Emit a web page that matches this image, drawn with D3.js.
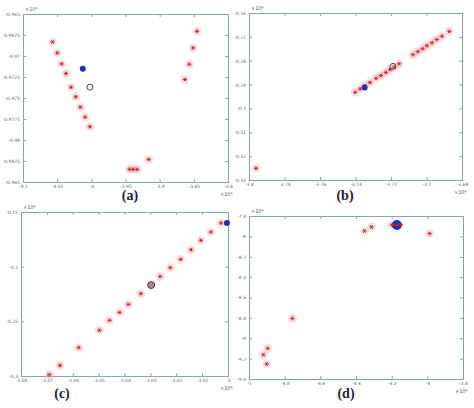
<!DOCTYPE html><html><head><meta charset="utf-8"><script src="https://cdn.jsdelivr.net/npm/d3@7"></script>
<style>body{margin:0;background:#fff}</style></head><body><svg id="s" width="474" height="408"></svg>
<script>
const aX=[-4.0567,-4.0498,-4.0434,-4.037,-4.0297,-4.0228,-4.0159,-4.009,-4.0021,-3.9441,-3.9387,-3.9328,-3.916,-3.863,-3.8566,-3.8511,-3.8453];
const aY=[-0.96833,-0.96963,-0.97094,-0.97209,-0.97371,-0.97486,-0.97609,-0.97728,-0.97842,-0.98349,-0.98349,-0.98349,-0.98231,-0.9728,-0.97098,-0.96904,-0.96706];
const bX=[-3.796,-3.7402,-3.7374,-3.7346,-3.7318,-3.7284,-3.7257,-3.7229,-3.7205,-3.7182,-3.7154,-3.7077,-3.7049,-3.7022,-3.6998,-3.697,-3.6942,-3.6913,-3.6872];
const bY=[-0.3251,-0.2932,-0.2918,-0.2905,-0.2891,-0.2874,-0.2862,-0.2849,-0.2837,-0.2827,-0.2813,-0.2775,-0.2762,-0.275,-0.2737,-0.2725,-0.2711,-0.2697,-0.2677];
const cX=[-3.069,-3.0649,-3.0577,-3.0497,-3.0458,-3.0419,-3.0385,-3.0337,-3.0262,-3.0223,-3.0183,-3.0143,-3.0105,-3.0066,-3.0027];
const cY=[-0.2988,-0.2903,-0.2741,-0.2582,-0.2491,-0.2418,-0.2345,-0.2247,-0.2089,-0.2009,-0.1933,-0.1845,-0.1759,-0.1683,-0.1601];
const dX=[-4.3523,-4.3129,-4.1988,-3.9873,-4.7566,-4.8952,-4.9195,-4.9008];
const dY=[-7.947,-7.9078,-7.8882,-7.973,-8.8057,-9.0995,-9.1616,-9.2529];
const panels=[
 {lab:"(a)",box:[23,14,228,182],xd:[-4.1,-3.8],xt:[-4.1,-4.05,-4,-3.95,-3.9,-3.85,-3.8],yd:[-0.985,-0.965],yt:d3.range(9).map(i=>-0.985+i*0.0025),xs:aX,ys:aY,blue:[-4.0125,-0.97153],open:[-4.0021,-0.97371],lp:[130,200]},
 {lab:"(b)",box:[249,13,462,180],xd:[-3.8,-3.68],xt:[-3.8,-3.78,-3.76,-3.74,-3.72,-3.7,-3.68],yd:[-0.33,-0.26],yt:d3.range(8).map(i=>-0.33+i*0.01),xs:bX,ys:bY,blue:[-3.7349,-0.2912],open:[-3.7189,-0.2824],lp:[345,200]},
 {lab:"(c)",box:[21,212,228,376],xd:[-3.08,-3.0],xt:d3.range(9).map(i=>-3.08+i*0.01),yd:[-0.3,-0.15],yt:[-0.3,-0.25,-0.2,-0.15],xs:cX,ys:cY,blue:[-3.0004,-0.1601],open:[-3.0297,-0.2168],lp:[62,398]},
 {lab:"(d)",box:[249,216,463,379],xd:[-5,-3.8],xt:[-5,-4.8,-4.6,-4.4,-4.2,-4,-3.8],yd:[-9.4,-7.8],yt:d3.range(9).map(i=>-9.4+i*0.2),xs:dX,ys:dY,blue:[-4.1707,-7.8882],open:null,lp:[346,398]}
];
const svg=d3.select("#s");
const fmt=v=>+v.toFixed(4)+"";
panels.forEach(p=>{
 const [x0,y0,x1,y1]=p.box;
 const x=d3.scaleLinear().domain(p.xd).range([x0,x1]);
 const y=d3.scaleLinear().domain(p.yd).range([y1,y0]);
 const g=svg.append("g");
 const ac="#8aa4a8";
 g.append("g").attr("transform",`translate(0,${y1})`).call(d3.axisBottom(x).tickValues(p.xt).tickSize(-3).tickFormat(fmt));
 g.append("g").attr("transform",`translate(${x0},0)`).call(d3.axisLeft(y).tickValues(p.yt).tickSize(-3).tickFormat(fmt));
 g.append("g").attr("transform",`translate(0,${y0})`).call(d3.axisTop(x).tickValues(p.xt).tickSize(-3).tickFormat(""));
 g.append("g").attr("transform",`translate(${x1},0)`).call(d3.axisRight(y).tickValues(p.yt).tickSize(-3).tickFormat(""));
 g.selectAll(".domain").attr("stroke",ac);g.selectAll(".tick line").attr("stroke",ac);
 g.selectAll(".tick text").attr("font-size",4.5).attr("font-family","DejaVu Sans").attr("fill","#667");
 g.append("text").attr("x",x0+2).attr("y",y0-3).attr("font-family","DejaVu Sans").attr("font-size",5).attr("fill","#556").text("×10⁴");
 g.append("text").attr("x",x1-8).attr("y",y1+14).attr("font-family","DejaVu Sans").attr("font-size",5).attr("fill","#556").text("×10⁴");
 const pts=p.xs.map((v,i)=>[x(v),y(p.ys[i])]);
 g.selectAll(".h").data(pts).join("circle").attr("cx",d=>d[0]).attr("cy",d=>d[1]).attr("r",4.5).attr("fill","#f4b4b4").attr("opacity",0.4);
 pts.forEach(d=>{[0,60,120].forEach(a=>{const r=a*Math.PI/180;g.append("line").attr("x1",d[0]-2.2*Math.cos(r)).attr("y1",d[1]-2.2*Math.sin(r)).attr("x2",d[0]+2.2*Math.cos(r)).attr("y2",d[1]+2.2*Math.sin(r)).attr("stroke","#d02030").attr("stroke-width",0.9);});});
 g.append("circle").attr("cx",x(p.blue[0])).attr("cy",y(p.blue[1])).attr("r",p.lab=="(d)"?5:3).attr("fill","#2030b0");
 if(p.lab=="(d)")g.append("line").attr("x1",x(p.blue[0])-6).attr("x2",x(p.blue[0])+6).attr("y1",y(p.blue[1])).attr("y2",y(p.blue[1])).attr("stroke","#e02030").attr("stroke-width",1.5);
 if(p.open)g.append("circle").attr("cx",x(p.open[0])).attr("cy",y(p.open[1])).attr("r",p.lab=="(c)"?3.5:3).attr("fill",p.lab=="(c)"?"#b08090":"none").attr("stroke","#444").attr("stroke-width",1);
 g.append("text").attr("x",p.lp[0]).attr("y",p.lp[1]).attr("text-anchor","middle").attr("font-family","Liberation Serif").attr("font-weight","bold").attr("font-size",14).attr("fill","#223").text(p.lab);
});
</script></body></html>
